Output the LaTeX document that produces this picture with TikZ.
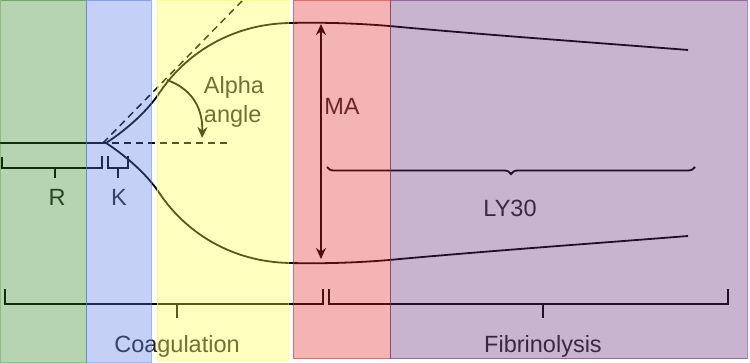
\documentclass[tikz,border=0pt]{standalone}
\usepackage{fontspec}
\setmainfont{Liberation Sans}
\usetikzlibrary{arrows.meta,decorations.pathreplacing}
\definecolor{ovG}{RGB}{49,132,35}
\definecolor{ovB}{RGB}{87,121,226}
\definecolor{ovY}{RGB}{255,255,75}
\definecolor{ovR}{RGB}{227,40,40}
\definecolor{ovP}{RGB}{101,41,118}
\tikzset{
  curve/.style={line width=1.8pt, black},
  bracket/.style={line width=1.5pt, black},
  dashline/.style={line width=1.5pt, black, dash pattern=on 7pt off 5pt},
  lbl/.style={font=\fontsize{23.5}{29}\selectfont, text=black!85, inner sep=0pt},
  zone/.style={fill=#1, fill opacity=0.35, draw=#1, draw opacity=0.55, line width=1pt},
  tip/.style={-{Stealth[length=11pt,width=10pt]}},
}
\begin{document}
\begin{tikzpicture}[x=1pt,y=-1pt]
\useasboundingbox (0,0) rectangle (750,363);
% key coordinates
\coordinate (v) at (106,143);
\coordinate (b0) at (0,143);
% baseline
\draw[curve] (b0) -- (v);
% upper curve
\draw[curve] (v) .. controls (120,134) and (145,115) .. (160,92)
  .. controls (185,55) and (230,24) .. (290,23)
  .. controls (330,22) and (370,24) .. (400,27)
  .. controls (500,36) and (600,43) .. (688,50);
% lower curve
\draw[curve] (v) .. controls (120,152) and (145,171) .. (160,194)
  .. controls (185,231) and (230,262) .. (290,263)
  .. controls (330,264) and (370,262) .. (400,259)
  .. controls (500,250) and (600,243) .. (688,236);
% dashed tangent and horizontal
\coordinate (t0) at (103,143);
\coordinate (t1) at (243,0);
\coordinate (h1) at (228,143);
\draw[dashline] (t0) -- (t1);
\draw[dashline] ([xshift=6pt]v) -- (h1);
% alpha arrow
\coordinate (a0) at (167,80);
\coordinate (a1) at (202,138);
\draw[line width=1.8pt, tip] (a0) .. controls (195,90) and (203,112) .. (a1);
\node[lbl, align=left] (alpha) at (234,102) {Alpha\\angle};
% R bracket
\coordinate (r0) at (2,157);
\coordinate (r1) at (102,156);
\draw[bracket] (r0) |- (55,168) -| (r1);
\draw[bracket] (55,168) -- (55,178);
\node[lbl] (R) at (57,197) {R};
% K bracket
\coordinate (k0) at (108,156);
\coordinate (k1) at (128,156);
\draw[bracket] (k0) |- (118,168) -| (k1);
\draw[bracket] (118,168) -- (118,178);
\node[lbl] (K) at (119,197) {K};
% MA arrow
\coordinate (m0) at (321,24);
\coordinate (m1) at (321,259);
\draw[line width=1.5pt, {Stealth[length=11pt,width=10pt]}-{Stealth[length=11pt,width=10pt]}] (m0) -- (m1);
\node[lbl] (MA) at (342,106) {MA};
% LY30 brace
\coordinate (l0) at (327,167);
\coordinate (l1) at (695,167);
\draw[line width=1.8pt, decorate, decoration={brace, mirror, amplitude=7pt}] (l0) -- (l1);
\node[lbl] (LY) at (510,208) {LY30};
% Coagulation bracket
\coordinate (c0) at (5,289);
\coordinate (c1) at (323,289);
\draw[bracket] (c0) |- (177,304) -| (c1);
\draw[bracket] (177,304) -- (177,318);
\node[lbl] (coag) at (177,346) {Coagulation};
% Fibrinolysis bracket
\coordinate (f0) at (329,289);
\coordinate (f1) at (728,289);
\draw[bracket] (f0) |- (543,304) -| (f1);
\draw[bracket] (543,304) -- (543,318);
\node[lbl] (fib) at (543,346) {Fibrinolysis};
% colour zones (translucent overlays)
\path[zone=ovG] (0.5,0.5) rectangle (86,362.5);
\path[zone=ovB] (86,0.5) rectangle (151,362.5);
\path[zone=ovY] (157,0.5) rectangle (288,361);
\path[zone=ovR] (293,0.5) rectangle (390,359);
\path[zone=ovP] (390,0.5) rectangle (747,359);
\end{tikzpicture}
\end{document}
